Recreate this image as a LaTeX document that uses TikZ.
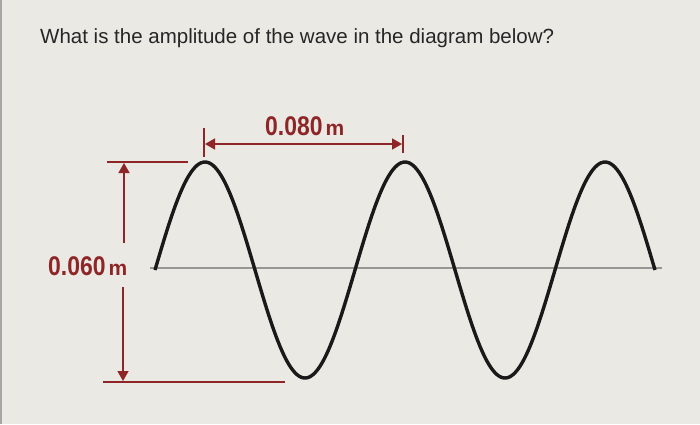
\documentclass[tikz,border=0pt]{standalone}
\usepackage{fontspec}
\setmainfont{Liberation Sans}
\usetikzlibrary{arrows.meta}
\definecolor{bg}{RGB}{235,233,228}
\definecolor{dimred}{RGB}{142,38,40}
\definecolor{axisgray}{RGB}{150,150,148}
\tikzset{
  dimline/.style={draw=dimred, line width=1.5pt},
  dimtip/.tip={Triangle[length=10pt,width=11pt]},
  dimarrow/.style={dimline, -dimtip},
  dimboth/.style={dimline, dimtip-dimtip},
  wave/.style={draw=black!90, line width=3.4pt, line join=round},
  axisline/.style={draw=axisgray, line width=2pt},
  dimlabel/.style={text=dimred, inner sep=0pt, font=\bfseries},
}
\begin{document}
\begin{tikzpicture}[x=1pt,y=-1pt]
\fill[bg] (0,0) rectangle (700,424);
\useasboundingbox (0,0) rectangle (700,424);
\draw[gray!70, line width=1.5pt] (0.75,0) -- (0.75,424);
% title
\node[anchor=base west, inner sep=0pt, font=\fontsize{20.5}{24}\selectfont, text=black!85] (title) at (40,43) {What is the amplitude of the wave in the diagram below?};
% axis
\coordinate (axL) at (150,268);
\coordinate (axR) at (662,268);
\draw[axisline] (axL) -- (axR);
% wave
\draw[wave] plot[domain=155:655, samples=251, smooth] (\x, {270-108*sin((\x-155)*1.8)});
% wavelength dimension
\coordinate (tlA) at (204,128);
\coordinate (tlB) at (204,157);
\coordinate (trA) at (403,135);
\coordinate (trB) at (403,153);
\coordinate (haL) at (205,144);
\coordinate (haR) at (402,144);
\draw[dimline] (tlA) -- (tlB);
\draw[dimline] (trA) -- (trB);
\draw[dimboth] (haL) -- (haR);
\node[dimlabel, anchor=base west] (wl) at (265,135) {\scalebox{0.85}[1]{\fontsize{27}{27}\selectfont 0.080}\hspace{3pt}{\fontsize{21}{21}\selectfont m}};
% height dimension
\coordinate (topA) at (107,162);
\coordinate (topB) at (188,162);
\coordinate (botA) at (103,382);
\coordinate (botB) at (285,382);
\draw[dimline] (topA) -- (topB);
\draw[dimline] (botA) -- (botB);
\coordinate (upS) at (124,243);
\coordinate (upE) at (124,163);
\coordinate (dnS) at (123,287);
\coordinate (dnE) at (123,381);
\draw[dimarrow] (upS) -- (upE);
\draw[dimarrow] (dnS) -- (dnE);
\node[dimlabel, anchor=base west] (ht) at (48,275) {\scalebox{0.85}[1]{\fontsize{27}{27}\selectfont 0.060}\hspace{3pt}{\fontsize{21}{21}\selectfont m}};
\end{tikzpicture}
\end{document}
